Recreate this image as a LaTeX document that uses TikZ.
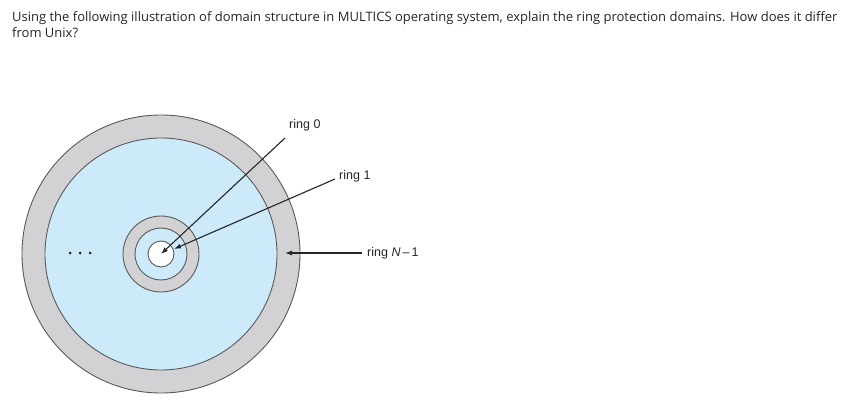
\documentclass[tikz,border=0pt]{standalone}
\usepackage{fontspec}
\usetikzlibrary{arrows.meta}
\setmainfont{Open Sans}
\newfontfamily\lab{Liberation Sans}
\definecolor{ringgray}{RGB}{210,210,212}
\definecolor{ltblue}{RGB}{204,234,250}
\definecolor{edge}{RGB}{90,90,90}
\begin{document}
\begin{tikzpicture}[x=1pt,y=-1pt,
  ringc/.style={draw=edge,line width=0.9pt},
  arr/.style={-{Latex[length=7pt,width=5pt]},line width=1.1pt,draw=black!85},
  dot/.style={fill=black!85,circle,inner sep=0,minimum size=3pt},
  lbl/.style={font=\lab\fontsize{12.5}{14}\selectfont,inner sep=1pt,text=black!85}]
\useasboundingbox (0,0) rectangle (867,406);
\fill[white] (0,0) rectangle (867,406);
\node[anchor=north west,align=left,inner sep=0,font=\fontsize{13}{16}\selectfont,text=black!85] (q) at (12,11)
 {Using the following illustration of domain structure in MULTICS operating system, explain the ring protection domains. How does it differ\\from Unix?};
\coordinate (c) at (161,254);
\fill[ringgray,ringc] (c) circle (139);
\fill[ltblue,ringc] (c) circle (116);
\fill[ringgray,ringc] (c) circle (38);
\fill[ltblue,ringc] (c) circle (26);
\fill[white,ringc] (c) circle (13);
\node[dot] (d1) at (70,253) {};
\node[dot] (d2) at (80,253) {};
\node[dot] (d3) at (90,253) {};
\node[lbl,anchor=west] (r0) at (288,125) {ring 0};
\node[lbl,anchor=west] (r1) at (338,176) {ring 1};
\node[lbl,anchor=west] (rn) at (366,253) {ring \textit{N}\,–\,1};
\coordinate (a0) at (285,138);
\coordinate (a1) at (335,179);
\coordinate (an) at (362,253);
\draw[arr] (a0) -- (c);
\draw[arr] (a1) -- (174,249);
\draw[arr] (an) -- (285,253);
\end{tikzpicture}
\end{document}
